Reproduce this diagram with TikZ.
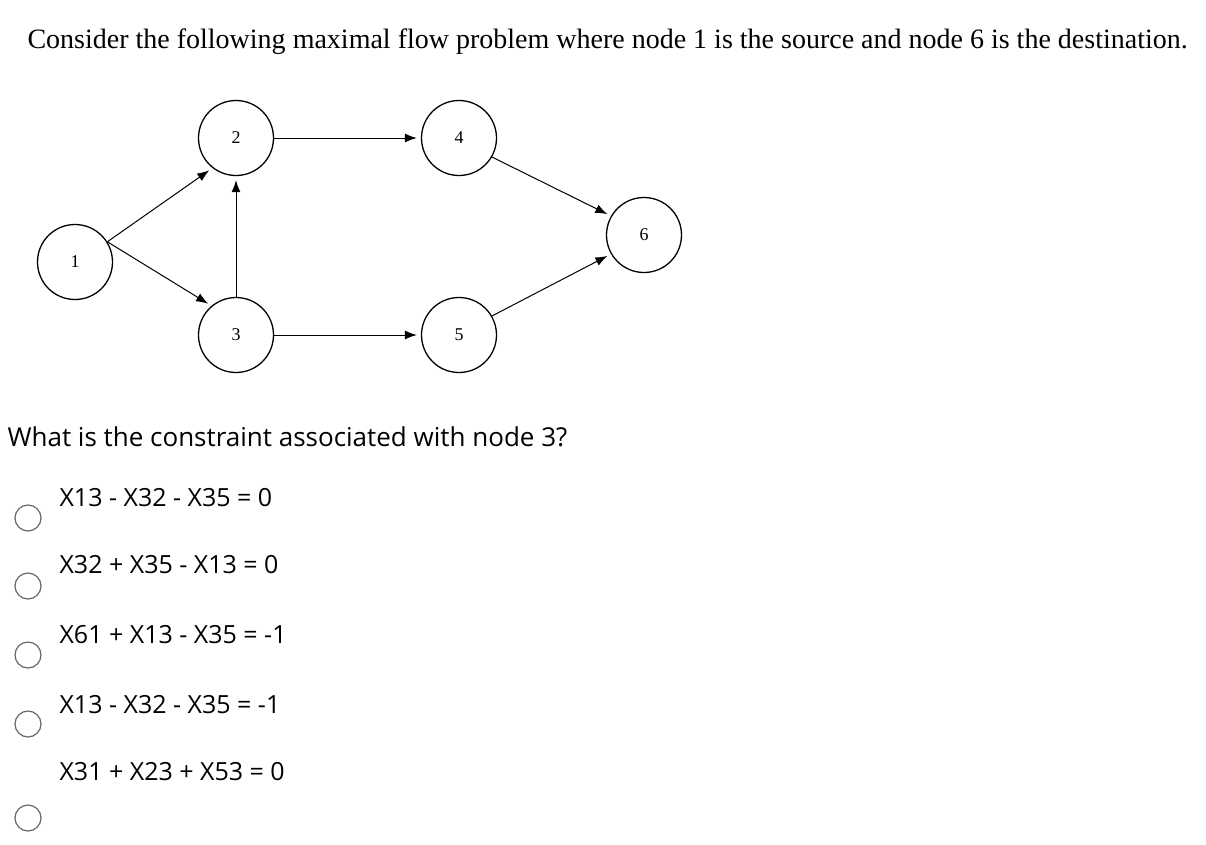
\documentclass[tikz,border=0pt]{standalone}
\usepackage{fontspec}
\setmainfont{Liberation Serif}
\newfontfamily\qsans{Open Sans}
\usetikzlibrary{arrows.meta}
\begin{document}
\begin{tikzpicture}[x=1pt,y=-1pt,
  nd/.style={circle,draw,line width=1.3pt,minimum size=75pt,inner sep=0pt,font=\fontsize{18}{18}\selectfont},
  ar/.style={-{Latex[length=12pt,width=9pt]},line width=1pt,shorten >=4pt},
  rad/.style={circle,draw,gray!80!black,minimum size=26pt,inner sep=0pt,line width=1.2pt},
  opt/.style={anchor=west,font=\qsans\fontsize{25}{25}\selectfont}]
\useasboundingbox (0,0) rectangle (1206,844);
\node[anchor=west,font=\fontsize{28}{28}\selectfont] (t) at (24,42) {Consider the following maximal flow problem where node 1 is the source and node 6 is the destination.};
\node[nd] (n1) at (75,262) {1};
\node[nd] (n2) at (236,138) {2};
\node[nd] (n3) at (236,335) {3};
\node[nd] (n4) at (459,138) {4};
\node[nd] (n5) at (459,335) {5};
\node[nd] (n6) at (644,235) {6};
\coordinate (s) at (n1.32);
\draw[ar] (s) -- (n2.232);
\draw[ar] (s) -- (n3.130);
\draw[ar] (n3) -- (n2);
\draw[ar] (n2) -- (n4);
\draw[ar] (n3) -- (n5);
\draw[ar] (n4.-30) -- (n6.150);
\draw[ar] (n5.30) -- (n6.210);
\node[anchor=west,font=\qsans\fontsize{26}{26}\selectfont] (q) at (4,437) {What is the constraint associated with node 3?};
\node[opt] (o1) at (56,498) {X13 - X32 - X35 = 0};
\node[opt] (o2) at (56,565) {X32 + X35 - X13 = 0};
\node[opt] (o3) at (56,635) {X61 + X13 - X35 = -1};
\node[opt] (o4) at (56,705) {X13 - X32 - X35 = -1};
\node[opt] (o5) at (56,772) {X31 + X23 + X53 = 0};
\node[rad] (r1) at (28,518) {};
\node[rad] (r2) at (28,586) {};
\node[rad] (r3) at (28,655) {};
\node[rad] (r4) at (28,724) {};
\node[rad] (r5) at (28,818) {};
\end{tikzpicture}
\end{document}
